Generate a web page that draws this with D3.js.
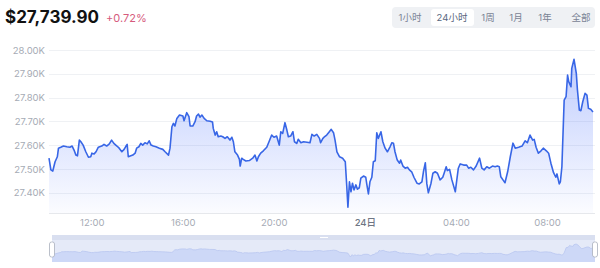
<!DOCTYPE html>
<html>
<head>
<meta charset="utf-8">
<script src="https://cdn.jsdelivr.net/npm/d3@7"></script>
<style>
  body { margin: 0; background: #fff; font-family: Inter, "Noto Sans CJK SC", sans-serif; }
</style>
</head>
<body>
<div id="chart"></div>
<script>
// header values
var lastPrice = "$27,739.90";
var change = "+0.72%";
var ranges = ["1小时", "24小时", "1周", "1月", "1年", "全部"];
var activeRange = "24小时";

// y ticks (price)
var yTicks = [27400, 27500, 27600, 27700, 27800, 27900, 28000];

// series: minutes after start time, price
var startTime = new Date(2023, 3, 23, 10, 6);
var minutes = [0,5,10,16,22,25,31,38,47,55,61,66,71,75,80,84,90,97,104,110,113,119,124,130,139,145,152,159,165,171,179,185,192,198,203,206,209,214,221,227,231,237,242,247,253,259,264,269,275,282,291,300,306,315,319,324,328,332,337,344,353,356,363,369,
  372,379,385,389,394,398,403,409,416,425,431,433,438,442,446,453,458,464,470,477,482,486,490,497,502,504,508,512,519,528,537,543,548,552,558,565,574,581,587,593,600,607,611,616,622,627,631,637,643,647,653,657,664,671,680,688,693,699,706,713,
  716,722,725,732,739,744,750,754,759,766,774,781,785,788,792,796,800,804,809,813,818,822,829,835,838,842,846,851,855,860,864,868,875,880,886,892,899,904,908,912,918,924,927,933,939,945,950,956,962,970,976,983,987,992,996,1000,1007,1012,1018,1024,1031,1038,1042,1047,1050,1056,1062,1071,1075,1079,1084,1093,
  1101,1106,1112,1119,1126,1135,1141,1147,1154,1161,1169,1176,1182,1187,1191,1198,1202,1209,1216,1223,1229,1238,1247,1255,1261,1268,1275,1279,1284,1290,1297,1303,1311,1317,1323,1330,1336,1339,1345,1348,1352,1358,1363,1367,1370,1376,1378,1384,1390,1393,1398,1402,1407,1413,1418,1422,1428,1434];
var prices = [27546,27497,27492,27531,27552,27588,27592,27597,27594,27592,27597,27580,27559,27556,27622,27615,27601,27573,27550,27552,27567,27564,27573,27592,27597,27604,27597,27606,27622,27608,27597,27588,27573,27583,27597,27604,27552,27555,27559,27567,27588,27594,27608,27601,27611,27606,27619,27601,27597,27594,27588,27583,27573,27559,27588,27678,27692,27681,27713,27727,27723,27703,27737,27720,
  27681,27681,27699,27723,27731,27718,27727,27713,27703,27701,27698,27671,27643,27657,27636,27639,27636,27629,27636,27622,27634,27615,27573,27559,27541,27513,27546,27541,27534,27536,27546,27559,27534,27552,27567,27577,27592,27619,27643,27634,27639,27601,27657,27650,27695,27664,27636,27639,27657,27615,27608,27625,27611,27615,27613,27611,27646,27639,27646,27629,
  27611,27629,27634,27643,27657,27667,27653,27622,27573,27552,27546,27531,27426,27340,27447,27405,27441,27413,27434,27416,27422,27462,27471,27466,27434,27396,27447,27466,27531,27535,27653,27629,27657,27615,27588,27573,27594,27611,27609,27573,27538,27525,27538,27513,27504,27508,27497,27489,27466,27441,27438,27447,27489,27527,27438,27401,27441,27483,27489,27483,27455,27466,27485,27510,27494,27499,27455,27405,27455,27504,27522,27517,
  27517,27504,27508,27497,27513,27546,27504,27497,27510,27504,27513,27510,27513,27510,27468,27452,27443,27489,27552,27609,27588,27592,27597,27619,27611,27643,27622,27625,27592,27567,27577,27588,27577,27567,27525,27485,27466,27480,27438,27447,27510,27790,27804,27895,27867,27846,27923,27961,27902,27832,27748,27745,27783,27818,27811,27755,27751,27740];

var data = minutes.map(function(m, i) {
  return { t: new Date(startTime.getTime() + m * 60000), v: prices[i] };
});

var W = 600, H = 268;
var plot = { left: 49, right: 593, top: 50, bottom: 213 };

var svg = d3.select("#chart").append("svg")
  .attr("width", W).attr("height", H);

var defs = svg.append("defs");
var grad = defs.append("linearGradient").attr("id", "areaGrad")
  .attr("x1", 0).attr("y1", 0).attr("x2", 0).attr("y2", 1);
grad.append("stop").attr("offset", "0%").attr("stop-color", "#3861fb").attr("stop-opacity", 0.32);
grad.append("stop").attr("offset", "100%").attr("stop-color", "#3861fb").attr("stop-opacity", 0.02);

// header
svg.append("text")
  .attr("x", 5).attr("y", 22.5)
  .style("font-size", "17px").style("font-weight", 700).style("fill", "#111")
  .text(lastPrice);
svg.append("text")
  .attr("x", 106).attr("y", 22)
  .style("font-size", "11px").style("fill", "#d65b7d")
  .text(change);

// range buttons
var btnX = [410, 452, 488, 516, 545, 581];
svg.append("rect")
  .attr("x", 392).attr("y", 7).attr("width", 203).attr("height", 21)
  .attr("rx", 4).style("fill", "#eff1f4");
svg.append("rect")
  .attr("x", 431).attr("y", 9).attr("width", 43).attr("height", 17)
  .attr("rx", 3).style("fill", "#fff");
svg.append("g").selectAll("text")
  .data(ranges)
  .enter().append("text")
  .attr("x", function(d, i) { return btnX[i]; })
  .attr("y", 21)
  .attr("text-anchor", "middle")
  .style("font-size", "9.5px")
  .style("fill", function(d) { return d == activeRange ? "#58667e" : "#7a8394"; })
  .text(function(d) { return d; });

// scales
var x = d3.scaleTime()
  .domain([data[0].t, data[data.length - 1].t])
  .range([plot.left, plot.right]);
var y = d3.scaleLinear()
  .domain([27316, 28000])
  .range([plot.bottom, plot.top]);

// grid
svg.append("g").selectAll("line")
  .data(yTicks)
  .enter().append("line")
  .attr("x1", plot.left).attr("x2", 595)
  .attr("y1", function(d) { return Math.round(y(d)) + 0.5; })
  .attr("y2", function(d) { return Math.round(y(d)) + 0.5; })
  .style("stroke", "#eff1f4");

svg.append("g").selectAll("text")
  .data(yTicks)
  .enter().append("text")
  .attr("x", 45)
  .attr("y", function(d) { return y(d) + 3.5; })
  .attr("text-anchor", "end")
  .style("font-size", "9.5px")
  .style("fill", "#a6abb5")
  .text(function(d) { return (d / 1000).toFixed(2) + "K"; });

// area + line
var area = d3.area()
  .x(function(d) { return x(d.t); })
  .y0(plot.bottom)
  .y1(function(d) { return y(d.v); });
var line = d3.line()
  .x(function(d) { return x(d.t); })
  .y(function(d) { return y(d.v); });

svg.append("path").datum(data)
  .attr("d", area)
  .style("fill", "url(#areaGrad)");
svg.append("path").datum(data)
  .attr("d", line)
  .style("fill", "none")
  .style("stroke", "#3866e6")
  .style("stroke-width", 1.6)
  .style("stroke-linejoin", "round");

// x axis
svg.append("line")
  .attr("x1", plot.left).attr("x2", 595)
  .attr("y1", plot.bottom + 0.5).attr("y2", plot.bottom + 0.5)
  .style("stroke", "#e6e8ec");

var xTicks = x.ticks(d3.timeHour.every(4));
svg.append("g").selectAll("text")
  .data(xTicks)
  .enter().append("text")
  .attr("x", function(d) { return x(d); })
  .attr("y", 226)
  .attr("text-anchor", "middle")
  .style("font-size", "9.5px")
  .style("fill", function(d) { return d.getHours() == 0 ? "#6f7684" : "#a6abb5"; })
  .style("font-weight", function(d) { return d.getHours() == 0 ? 500 : 400; })
  .text(function(d) { return d.getHours() == 0 ? d.getDate() + "日" : d3.timeFormat("%H:%M")(d); });

// navigator
var nav = { left: 52, right: 595, top: 235, bottom: 262 };
svg.append("rect")
  .attr("x", nav.left).attr("y", nav.top)
  .attr("width", nav.right - nav.left).attr("height", nav.bottom - nav.top)
  .style("fill", "#e5eaf8");
svg.append("rect")
  .attr("x", nav.left).attr("y", nav.top)
  .attr("width", nav.right - nav.left).attr("height", 5)
  .style("fill", "#d9dff0");
svg.append("rect")
  .attr("x", 320).attr("y", nav.top + 2)
  .attr("width", 8).attr("height", 1)
  .style("fill", "#fff");

var nx = d3.scaleTime().domain(x.domain()).range([nav.left, nav.right]);
var ny = d3.scaleLinear().domain(d3.extent(prices)).range([257, 244]);
svg.append("path").datum(data)
  .attr("d", d3.area()
    .x(function(d) { return nx(d.t); })
    .y0(nav.bottom)
    .y1(function(d) { return ny(d.v); }))
  .style("fill", "#cdd8f7");
svg.append("path").datum(data)
  .attr("d", d3.line()
    .x(function(d) { return nx(d.t); })
    .y(function(d) { return ny(d.v); }))
  .style("fill", "none")
  .style("stroke", "#b9c7f0")
  .style("stroke-width", 0.8);

// handles
[nav.left, nav.right].forEach(function(hx) {
  svg.append("rect")
    .attr("x", hx - 2.5).attr("y", 242)
    .attr("width", 5).attr("height", 15)
    .attr("rx", 2)
    .style("fill", "#fff")
    .style("stroke", "#a9b0bd")
    .style("stroke-width", 0.8);
});
</script>
</body>
</html>
